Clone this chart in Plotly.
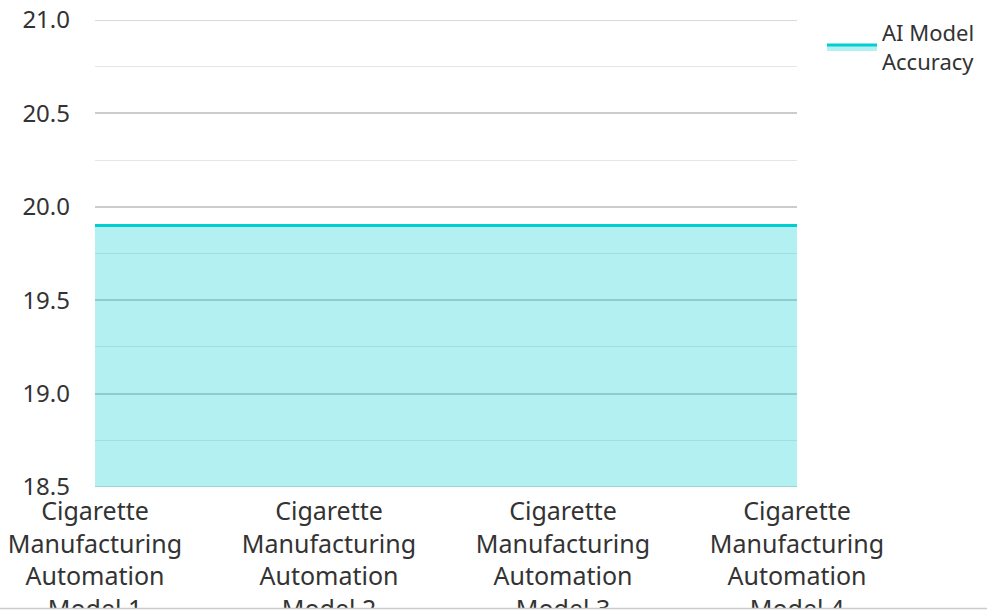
import plotly.graph_objects as go

categories = [
    "Cigarette<br>Manufacturing<br>Automation<br>Model 1",
    "Cigarette<br>Manufacturing<br>Automation<br>Model 2",
    "Cigarette<br>Manufacturing<br>Automation<br>Model 3",
    "Cigarette<br>Manufacturing<br>Automation<br>Model 4",
]
accuracy = [19.9, 19.9, 19.9, 19.9]
series_name = "AI Model<br>Accuracy"
y_ticks = [18.5, 19.0, 19.5, 20.0, 20.5, 21.0]
y_range = [18.5, 21.0]

W, H = 987, 612
ml, mr, mt, mb = 95, 190, 20, 125
pw, ph = W - ml - mr, H - mt - mb

xs = list(range(len(categories)))

fig = go.Figure()
fig.add_trace(go.Scatter(
    x=xs, y=accuracy, name=series_name, mode="lines",
    line=dict(color="#00CED1", width=3),
    fill="tozeroy", fillcolor="rgba(0,206,209,0.3)",
    showlegend=True,
))

def px_to_paper_x(px):
    return (px - ml) / pw

def px_to_paper_y(py):
    return (H - mb - py) / ph

edge_lines = [
    dict(type="line", xref="paper", yref="y", layer="below",
         x0=0, x1=1, y0=v, y1=v, line=dict(color="#cccccc", width=1.5))
    for v in (y_range[0], y_range[1])
]

fig.update_layout(
    template="none",
    width=W, height=H,
    margin=dict(l=ml, r=mr, t=mt, b=mb, autoexpand=False),
    paper_bgcolor="white", plot_bgcolor="white",
    font=dict(family="Noto Sans", color="#333333", size=24),
    xaxis=dict(
        range=[0, len(categories) - 1],
        tickvals=xs, ticktext=categories,
        showgrid=False, zeroline=False, showline=False, automargin=False,
        ticks="", tickfont=dict(size=25), ticklabelstandoff=7,
    ),
    yaxis=dict(
        range=y_range, tickvals=y_ticks, tickformat=".1f",
        showgrid=True, gridcolor="#cccccc", gridwidth=1.5,
        zeroline=False, showline=False, ticks="", automargin=False,
        ticklabelstandoff=24, tickfont=dict(size=24),
        minor=dict(dtick=0.25, tick0=18.5, showgrid=True, gridcolor="#e6e6e6", gridwidth=1),
    ),
    showlegend=True,
    legend=dict(
        x=px_to_paper_x(822), y=px_to_paper_y(12), xanchor="left", yanchor="top",
        font=dict(size=22), bgcolor="rgba(0,0,0,0)", borderwidth=0,
        itemwidth=50,
    ),
    shapes=edge_lines + [
        dict(type="rect", xref="paper", yref="paper", layer="above",
             x0=px_to_paper_x(-5), x1=px_to_paper_x(W + 5),
             y0=px_to_paper_y(609), y1=px_to_paper_y(H + 10),
             fillcolor="white", line=dict(width=0)),
        dict(type="line", xref="paper", yref="paper", layer="above",
             x0=px_to_paper_x(0), x1=px_to_paper_x(W),
             y0=px_to_paper_y(608.5), y1=px_to_paper_y(608.5),
             line=dict(color="#cccccc", width=1.5)),
    ],
)

fig.write_html("out.html")
